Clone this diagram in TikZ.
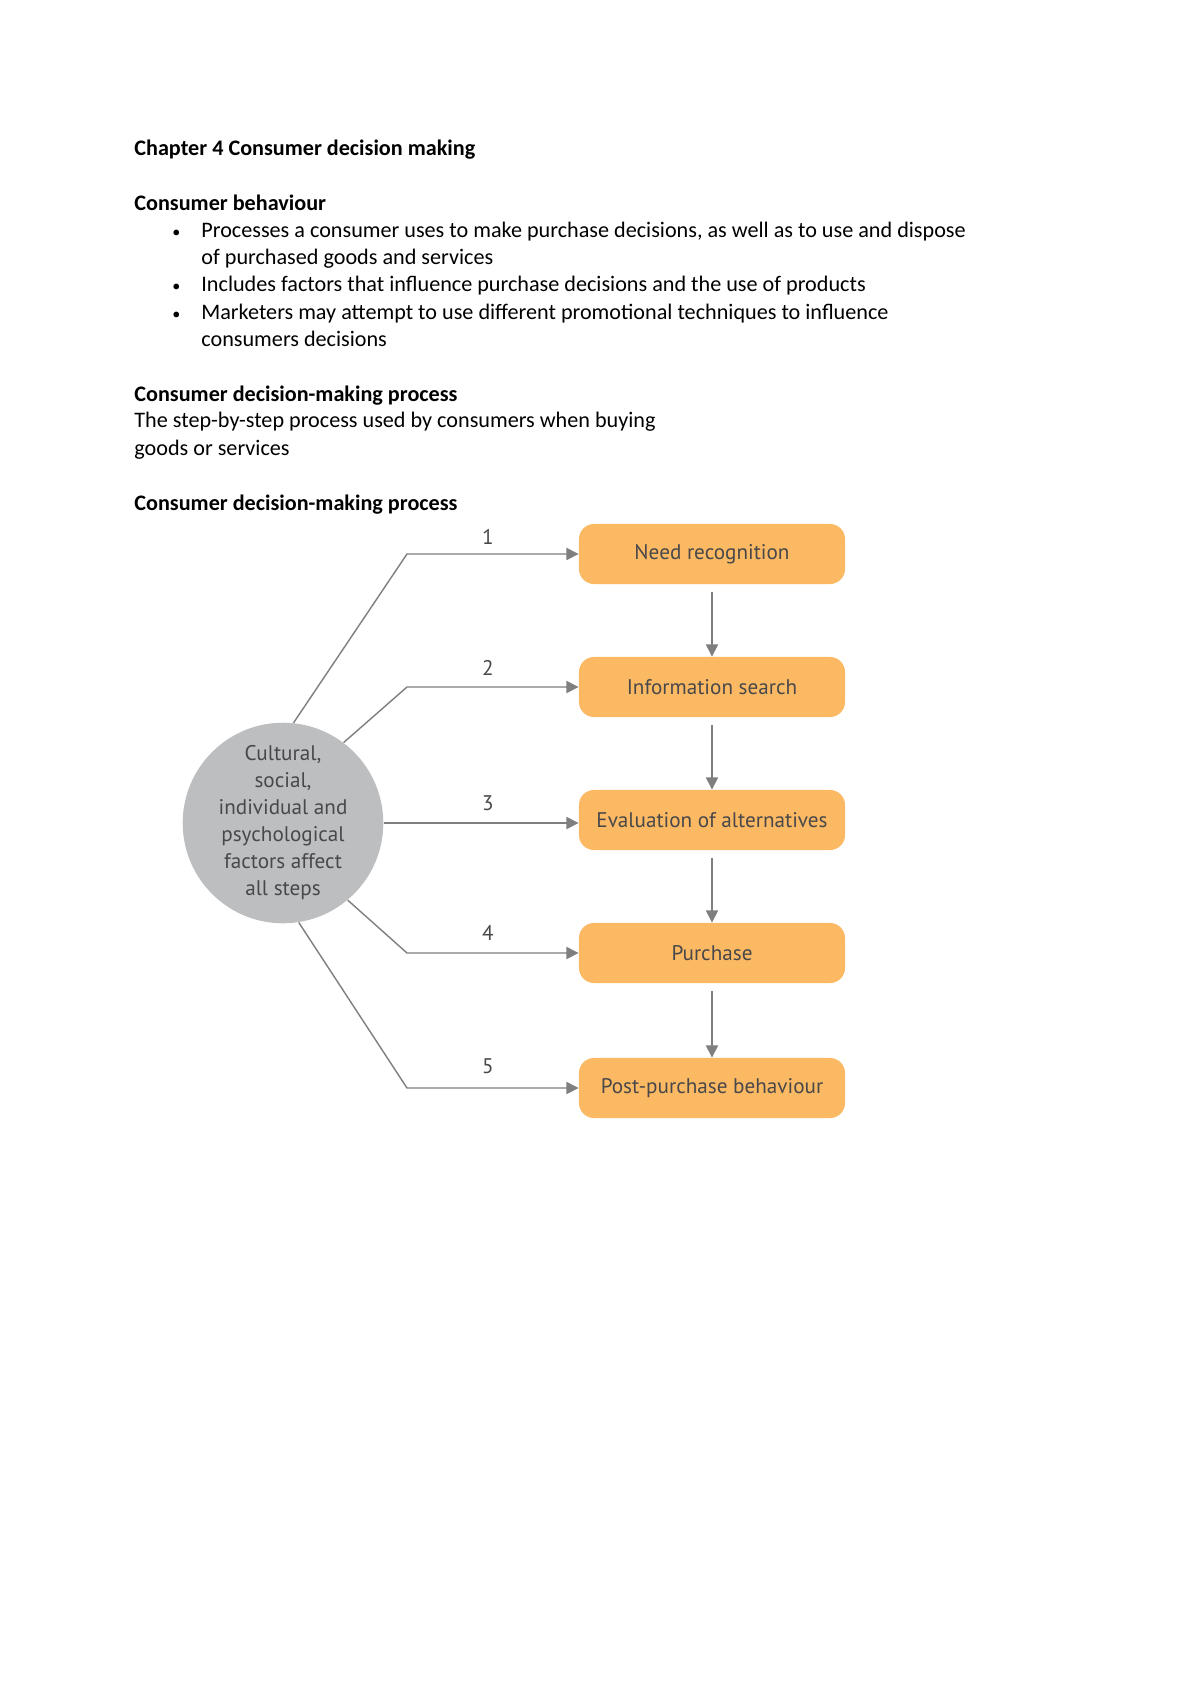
\documentclass[tikz,border=0pt]{standalone}
\usepackage{fontspec}
\setmainfont{Carlito}
\newfontfamily\diagfont{PT Sans}
\usetikzlibrary{arrows.meta}
\definecolor{boxfill}{HTML}{FBB963}
\definecolor{circfill}{HTML}{BDBEC0}
\definecolor{linegray}{HTML}{7F7F7F}
\definecolor{labtext}{HTML}{48484A}
\tikzset{
  bodytext/.style={anchor=base west,inner sep=0pt,
    font=\fontsize{11}{13.4}\selectfont},
  stepbox/.style={rectangle,rounded corners=7.5pt,fill=boxfill,draw=none,
    minimum width=132pt,minimum height=29.8pt,text=labtext,
    font=\diagfont\fontsize{10.5}{12}\selectfont},
  factors/.style={circle,fill=circfill,draw=none,minimum size=92.8pt,
    inner sep=0pt,align=center,text=labtext,
    font=\diagfont\fontsize{10.5}{13.4}\selectfont},
  steplabel/.style={inner sep=0pt,text=labtext,
    font=\diagfont\fontsize{10.5}{12}\selectfont},
  conn/.style={draw=linegray,line width=0.7pt,
    -{Triangle[length=6pt,width=6pt]}}
}
\newcommand{\bul}{{\fontsize{8}{8}\selectfont\textbullet}}
\begin{document}
\begin{tikzpicture}[x=0.4961pt,y=-0.4961pt]
  \useasboundingbox[fill=white] (0,0) rectangle (1200,1698);
  % notes
  \begin{scope}[every node/.style={bodytext}]
    \node (title) at (134,155) {\textbf{Chapter 4 Consumer decision making}};
    \node (behav) at (134,210) {\textbf{Consumer behaviour}};
    \node (dot1) at (172,237) {\bul};
    \node (item1) at (201,237) {Processes a consumer uses to make purchase decisions, as well as to use and dispose};
    \node (item1b) at (201,264) {of purchased goods and services};
    \node (dot2) at (172,291) {\bul};
    \node (item2) at (201,291) {Includes factors that influence purchase decisions and the use of products};
    \node (dot3) at (172,319) {\bul};
    \node (item3) at (201,319) {Marketers may attempt to use different promotional techniques to influence};
    \node (item3b) at (201,346) {consumers decisions};
    \node (procA) at (134,401) {\textbf{Consumer decision-making process}};
    \node (defn) at (134,427) {The step-by-step process used by consumers when buying};
    \node (defnb) at (134,455) {goods or services};
    \node (procB) at (134,510) {\textbf{Consumer decision-making process}};
  \end{scope}
  % steps
  \node[stepbox] (need) at (712,554) {Need recognition};
  \node[stepbox] (search) at (712,687) {Information search};
  \node[stepbox] (eval) at (712,820) {Evaluation of alternatives};
  \node[stepbox] (buy) at (712,953) {Purchase};
  \node[stepbox] (post) at (712,1088) {Post-purchase behaviour};
  \node[factors] (fac) at (283,823) {Cultural,\\social,\\individual and\\psychological\\factors affect\\all steps};
  % bends
  \coordinate (k1) at (407,554);
  \coordinate (k2) at (407,687);
  \coordinate (k4) at (407,953);
  \coordinate (k5) at (407,1088);
  \begin{scope}[every edge/.style={conn,shorten <=3.5pt}]
    \path (need) edge (search)
          (search) edge (eval)
          (eval) edge (buy)
          (buy) edge (post);
  \end{scope}
  \draw[conn] (fac.84) -- (k1) -- (need.west);
  \draw[conn] (fac.53) -- (k2) -- (search.west);
  \draw[conn] (fac.east) -- (eval.west |- fac.east);
  \draw[conn] (fac.-50) -- (k4) -- (buy.west);
  \draw[conn] (fac.-81) -- (k5) -- (post.west);
  \node[steplabel] (n1) at (488,537) {1};
  \node[steplabel] (n2) at (488,668) {2};
  \node[steplabel] (n3) at (488,803) {3};
  \node[steplabel] (n4) at (488,933) {4};
  \node[steplabel] (n5) at (488,1066) {5};
\end{tikzpicture}
\end{document}
